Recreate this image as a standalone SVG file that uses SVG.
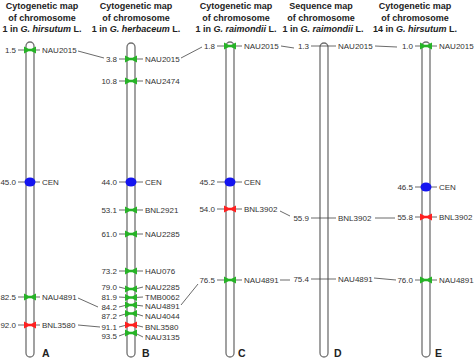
<svg xmlns="http://www.w3.org/2000/svg" width="474" height="361" viewBox="0 0 474 361">
<style>
.t{font-family:"Liberation Sans",Arial,sans-serif;font-size:9px;font-weight:bold;fill:#222;text-anchor:middle}
.i{font-style:italic}
.l{font-family:"Liberation Sans",Arial,sans-serif;font-size:8px;fill:#333}
.r{text-anchor:end}
.ab{font-family:"Liberation Sans",Arial,sans-serif;font-size:10.5px;font-weight:bold;fill:#222}
.ch{fill:#fff;stroke:#707070;stroke-width:1.3}
.ld{stroke:#444;stroke-width:0.8;fill:none}
.g{fill:#26b326}
.rd{fill:#ff2020}
.bl{fill:#1414f0}
</style>
<defs>
<polygon id="bt" points="-6,-3.5 -1.5,-1.3 1.5,-1.3 6,-3.5 6,3.5 1.5,1.3 -1.5,1.3 -6,3.5"/>
<ellipse id="cen" rx="5.5" ry="4.5"/>
</defs>
<rect width="474" height="361" fill="#fff"/>

<g id="chrA">
<text class="t" x="42" y="9">Cytogenetic map</text>
<text class="t" x="42" y="20.5">of chromosome</text>
<text class="t" x="42" y="32">1 in <tspan class="i">G. hirsutum</tspan> L.</text>
<rect class="ch" x="26" y="42" width="8" height="315" rx="4"/>
<path class="ld" d="M18,50H40M18,182H40M18,297H40M18,325H40"/>
<use href="#bt" x="30" y="50" class="g"/>
<use href="#cen" x="30" y="182" class="bl"/>
<use href="#bt" x="30" y="297" class="g"/>
<use href="#bt" x="30" y="325" class="rd"/>
<text class="l r" x="16" y="53">1.5</text>
<text class="l r" x="16" y="185">45.0</text>
<text class="l r" x="16" y="300">82.5</text>
<text class="l r" x="16" y="328">92.0</text>
<text class="l" x="42" y="53">NAU2015</text>
<text class="l" x="42" y="185">CEN</text>
<text class="l" x="42" y="300">NAU4891</text>
<text class="l" x="42" y="328">BNL3580</text>
<text class="ab" x="42" y="357">A</text>
</g>

<g id="chrB">
<text class="t" x="136" y="9">Cytogenetic map</text>
<text class="t" x="136" y="20.5">of chromosome</text>
<text class="t" x="136" y="32">1 in <tspan class="i">G. herbaceum</tspan> L.</text>
<rect class="ch" x="127" y="43" width="8" height="314" rx="4"/>
<path class="ld" d="M119,59H143M119,81H143M119,182H143M119,210H143M119,234H143M119,271H143M119,287L127,289H135L143,287M119,297L127,297.5H135L143,297M119,307L127,305H135L143,306M119,316L127,313.5H135L143,316M119,327L127,325H135L143,327M119,336L127,333H135L143,337"/>
<use href="#bt" x="131" y="59" class="g"/>
<use href="#bt" x="131" y="81" class="g"/>
<use href="#cen" x="131" y="182" class="bl"/>
<use href="#bt" x="131" y="210" class="g"/>
<use href="#bt" x="131" y="234" class="g"/>
<use href="#bt" x="131" y="271" class="g"/>
<use href="#bt" x="131" y="289" class="g"/>
<use href="#bt" x="131" y="297.5" class="g"/>
<use href="#bt" x="131" y="305" class="g"/>
<use href="#bt" x="131" y="313.5" class="g"/>
<use href="#bt" x="131" y="325" class="rd"/>
<use href="#bt" x="131" y="333" class="g"/>
<text class="l r" x="117" y="62">3.8</text>
<text class="l r" x="117" y="84">10.8</text>
<text class="l r" x="117" y="185">44.0</text>
<text class="l r" x="117" y="213">53.1</text>
<text class="l r" x="117" y="237">61.0</text>
<text class="l r" x="117" y="274">73.2</text>
<text class="l r" x="117" y="290">79.0</text>
<text class="l r" x="117" y="300">81.9</text>
<text class="l r" x="117" y="310">84.2</text>
<text class="l r" x="117" y="319">87.2</text>
<text class="l r" x="117" y="330">91.1</text>
<text class="l r" x="117" y="339">93.5</text>
<text class="l" x="145" y="62">NAU2015</text>
<text class="l" x="145" y="84">NAU2474</text>
<text class="l" x="145" y="185">CEN</text>
<text class="l" x="145" y="213">BNL2921</text>
<text class="l" x="145" y="237">NAU2285</text>
<text class="l" x="145" y="274">HAU076</text>
<text class="l" x="145" y="290">NAU2285</text>
<text class="l" x="145" y="300">TMB0062</text>
<text class="l" x="145" y="309">NAU4891</text>
<text class="l" x="145" y="319">NAU4044</text>
<text class="l" x="145" y="330">BNL3580</text>
<text class="l" x="145" y="340">NAU3135</text>
<text class="ab" x="142" y="357">B</text>
</g>

<g id="chrC">
<text class="t" x="236" y="9">Cytogenetic map</text>
<text class="t" x="236" y="20.5">of chromosome</text>
<text class="t" x="236" y="32">1 in <tspan class="i">G. raimondii</tspan> L.</text>
<rect class="ch" x="226" y="42" width="8" height="315" rx="4"/>
<path class="ld" d="M217,46H242M217,182H242M217,209H242M217,280H242"/>
<use href="#bt" x="230" y="46" class="g"/>
<use href="#cen" x="230" y="182" class="bl"/>
<use href="#bt" x="230" y="209" class="rd"/>
<use href="#bt" x="230" y="280" class="g"/>
<text class="l r" x="215" y="49">1.8</text>
<text class="l r" x="215" y="185">45.2</text>
<text class="l r" x="215" y="212">54.0</text>
<text class="l r" x="215" y="283">76.5</text>
<text class="l" x="244" y="49">NAU2015</text>
<text class="l" x="244" y="185">CEN</text>
<text class="l" x="244" y="212">BNL3902</text>
<text class="l" x="244" y="283">NAU4891</text>
<text class="ab" x="238" y="357">C</text>
</g>

<g id="chrD">
<text class="t" x="321" y="9">Sequence map</text>
<text class="t" x="321" y="20.5">of chromosome</text>
<text class="t" x="323" y="32">1 in <tspan class="i">G. raimondii</tspan> L.</text>
<rect class="ch" x="320" y="43" width="8" height="314" rx="4"/>
<path class="ld" d="M311,46H336M311,218H336M311,279H336"/>
<text class="l r" x="309" y="49">1.3</text>
<text class="l r" x="309" y="221">55.9</text>
<text class="l r" x="309" y="282">75.4</text>
<text class="l" x="338" y="49">NAU2015</text>
<text class="l" x="338" y="221">BNL3902</text>
<text class="l" x="338" y="282">NAU4891</text>
<text class="ab" x="334" y="357">D</text>
</g>

<g id="chrE">
<text class="t" x="415" y="9">Cytogenetic map</text>
<text class="t" x="415" y="20.5">of chromosome</text>
<text class="t" x="415" y="32">14 in <tspan class="i">G. hirsutum</tspan> L.</text>
<rect class="ch" x="422" y="42" width="8" height="315" rx="4"/>
<path class="ld" d="M415,46H437M415,187H437M415,217H437M415,280H437"/>
<use href="#bt" x="426" y="46" class="g"/>
<use href="#cen" x="426" y="187" class="bl"/>
<use href="#bt" x="426" y="217" class="rd"/>
<use href="#bt" x="426" y="280" class="g"/>
<text class="l r" x="413" y="49">1.0</text>
<text class="l r" x="413" y="190">46.5</text>
<text class="l r" x="413" y="220">55.8</text>
<text class="l r" x="413" y="283">76.0</text>
<text class="l" x="439" y="49">NAU2015</text>
<text class="l" x="439" y="190">CEN</text>
<text class="l" x="439" y="220">BNL3902</text>
<text class="l" x="439" y="283">NAU4891</text>
<text class="ab" x="435" y="357">E</text>
</g>

<g id="connectors" class="ld">
<path d="M78,51L104,58"/>
<path d="M78,298L98,307"/>
<path d="M78,325L100,327"/>
<path d="M181,58L202,47"/>
<path d="M181,305L198,284"/>
<path d="M281,46L294,48"/>
<path d="M280,211L290,216"/>
<path d="M280,280L290,280"/>
<path d="M375,46L397,47"/>
<path d="M375,218L395,218"/>
<path d="M374,278L396,280"/>
</g>
</svg>
